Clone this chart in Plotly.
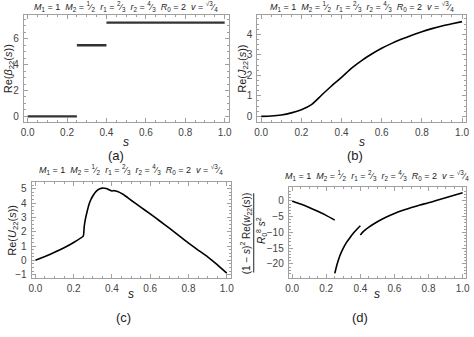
import plotly.graph_objects as go

W, H = 474, 337

# (a) Re(beta_22): piecewise constant
beta_s = [[0.0, 0.25], [0.25, 0.40], [0.40, 1.0]]
beta_v = [[0.0, 0.0], [5.5, 5.5], [7.25, 7.25]]

# (b) Re(J_22)
j_s = [0.0, 0.05, 0.1, 0.15, 0.2, 0.25, 0.3, 0.35, 0.4, 0.45, 0.5, 0.55, 0.6, 0.65, 0.7, 0.75, 0.8, 0.85, 0.9, 0.95, 1.0]
j_v = [0.0, 0.02, 0.07, 0.17, 0.32, 0.57, 1.03, 1.48, 1.9, 2.35, 2.72, 3.04, 3.32, 3.56, 3.77, 3.96, 4.13, 4.28, 4.41, 4.52, 4.62]

# (c) Re(U_22)
u_s = [0.0, 0.05, 0.1, 0.15, 0.2, 0.25, 0.255, 0.26, 0.27, 0.28, 0.29, 0.3, 0.32, 0.34, 0.35, 0.37, 0.38, 0.39, 0.4, 0.41,
       0.42, 0.44, 0.46, 0.5, 0.55, 0.6, 0.65, 0.7, 0.75, 0.8, 0.85, 0.9, 0.95, 1.0]
u_v = [0.0, 0.27, 0.56, 0.88, 1.25, 1.69, 2.35, 2.8, 3.4, 3.9, 4.25, 4.5, 4.85, 5.02, 5.05, 5.02, 4.97, 4.9, 4.85, 4.87,
       4.85, 4.75, 4.6, 4.2, 3.72, 3.25, 2.75, 2.25, 1.72, 1.2, 0.72, 0.25, -0.3, -0.9]

# (d) (1-s)^2 Re(w_22) / (R0^8 s^2), three branches
w_s = [[0.0, 0.05, 0.1, 0.15, 0.2, 0.25],
       [0.25, 0.26, 0.27, 0.28, 0.3, 0.32, 0.34, 0.36, 0.38, 0.4],
       [0.4, 0.42, 0.45, 0.5, 0.55, 0.6, 0.65, 0.7, 0.75, 0.8, 0.85, 0.9, 0.95, 1.0]]
w_v = [[0.0, -1.0, -2.1, -3.3, -4.6, -6.1],
       [-23.0, -20.8, -19.0, -17.4, -15.0, -13.1, -11.6, -10.2, -9.0, -7.9],
       [-10.8, -9.6, -8.3, -6.6, -5.2, -4.0, -3.0, -2.1, -1.3, -0.6, 0.2, 1.0, 1.8, 2.6]]

x_ticks = [0.0, 0.2, 0.4, 0.6, 0.8, 1.0]
x_labels = ["0.0", "0.2", "0.4", "0.6", "0.8", "1.0"]

TITLE = ("<i>M</i><sub>1</sub> = 1  <i>M</i><sub>2</sub> = <sup>1</sup>⁄<sub>2</sub>  "
         "<i>r</i><sub>1</sub> = <sup>2</sup>⁄<sub>3</sub>  <i>r</i><sub>2</sub> = <sup>4</sup>⁄<sub>3</sub>  "
         "<i>R</i><sub>0</sub> = 2  <i>v</i> = <sup>√3</sup>⁄<sub>4</sub>")

FONT = "Liberation Sans, Arial, sans-serif"
FRAME = "#a0a0a0"
TICKFONT = dict(family=FONT, size=10, color="#444444")

# panel frames in pixels: (left, right, top, bottom), y range, y ticks
panels = {
    "a": dict(box=(21, 229, 15, 123), yr=[-0.43, 7.85], yt=[0, 2, 4, 6], ym=0.5),
    "b": dict(box=(258, 470, 15, 123), yr=[-0.27, 4.95], yt=[0, 1, 2, 3, 4], ym=0.25),
    "c": dict(box=(29, 231, 184, 280), yr=[-1.2, 5.45], yt=[-1, 0, 1, 2, 3, 4, 5], ym=0.25),
    "d": dict(box=(290, 470, 189, 280), yr=[-24.3, 4.3], yt=[-20, -15, -10, -5, 0], ym=1),
}

fig = go.Figure()
layout = dict(width=W, height=H, margin=dict(l=0, r=0, t=0, b=0),
              paper_bgcolor="white", plot_bgcolor="white", showlegend=False)

for i, (key, p) in enumerate(panels.items(), start=1):
    l, r, t, b = p["box"]
    sfx = "" if i == 1 else str(i)
    layout["xaxis" + sfx] = dict(
        domain=[l / W, r / W], range=[-0.02, 1.02], anchor="y" + sfx,
        tickvals=x_ticks, ticktext=x_labels, ticks="inside", ticklen=4, tickcolor=FRAME,
        minor=dict(ticks="inside", ticklen=2, dtick=0.05, tick0=0, tickcolor=FRAME),
        showline=True, mirror="ticks", linecolor=FRAME, linewidth=1, showgrid=False,
        zeroline=False, tickfont=TICKFONT, ticklabelstandoff=1)
    layout["yaxis" + sfx] = dict(
        domain=[1 - b / H, 1 - t / H], range=p["yr"], anchor="x" + sfx,
        tickvals=p["yt"], ticks="inside", ticklen=4, tickcolor=FRAME,
        minor=dict(ticks="inside", ticklen=2, dtick=p["ym"], tick0=0, tickcolor=FRAME),
        showline=True, mirror="ticks", linecolor=FRAME, linewidth=1, showgrid=False,
        zeroline=False, tickfont=TICKFONT, ticklabelstandoff=2)

line_k = dict(color="black", width=1.6)

for xs, ys in zip(beta_s, beta_v):
    fig.add_trace(go.Scatter(x=xs, y=ys, mode="lines", line=dict(color="#333333", width=2.4),
                             xaxis="x", yaxis="y"))
fig.add_trace(go.Scatter(x=j_s, y=j_v, mode="lines", line=dict(shape="spline", smoothing=0.6, **line_k),
                         xaxis="x2", yaxis="y2"))
fig.add_trace(go.Scatter(x=u_s, y=u_v, mode="lines", line=dict(shape="spline", smoothing=0.4, **line_k),
                         xaxis="x3", yaxis="y3"))
for xs, ys in zip(w_s, w_v):
    fig.add_trace(go.Scatter(x=xs, y=ys, mode="lines", line=dict(shape="spline", smoothing=0.6, **line_k),
                             xaxis="x4", yaxis="y4"))

ann = []


def text(x, y, s, size=10, angle=0, color="#222222"):
    ann.append(dict(x=x / W, y=1 - y / H, xref="paper", yref="paper", text=s, showarrow=False,
                    textangle=angle, font=dict(family=FONT, size=size, color=color),
                    xanchor="center", yanchor="middle"))


# titles over each panel
text(125, 7, TITLE, size=9)
text(364, 7, TITLE, size=9)
text(130, 171, TITLE, size=9)
text(380, 177, TITLE, size=9)

# axis titles
text(125, 143, "<i>s</i>", size=12)
text(364, 143, "<i>s</i>", size=12)
text(130, 297, "<i>s</i>", size=12)
text(380, 297, "<i>s</i>", size=12)

text(6, 69, "Re(<i>β</i><sub>22</sub>(<i>s</i>))", size=11, angle=-90)
text(244, 69, "Re(<i>J</i><sub>22</sub>(<i>s</i>))", size=11, angle=-90)
text(10, 232, "Re(<i>U</i><sub>22</sub>(<i>s</i>))", size=11, angle=-90)
text(247, 235, "(1 − <i>s</i>)<sup>2</sup> Re(<i>w</i><sub>22</sub>(<i>s</i>))", size=10, angle=-90)
text(263, 233, "<i>R</i><sub>0</sub><sup>8</sup> <i>s</i><sup>2</sup>", size=10, angle=-90)

# panel labels
text(115, 157, "(a)", size=13)
text(357, 157, "(b)", size=13)
text(122, 320, "(c)", size=13)
text(362, 320, "(d)", size=13)

layout["annotations"] = ann
layout["shapes"] = [dict(type="line", xref="paper", yref="paper",
                         x0=254.5 / W, x1=254.5 / W, y0=1 - 275 / H, y1=1 - 195 / H,
                         line=dict(color="#222222", width=1))]

fig.update_layout(**layout)
fig.write_html("out.html")
